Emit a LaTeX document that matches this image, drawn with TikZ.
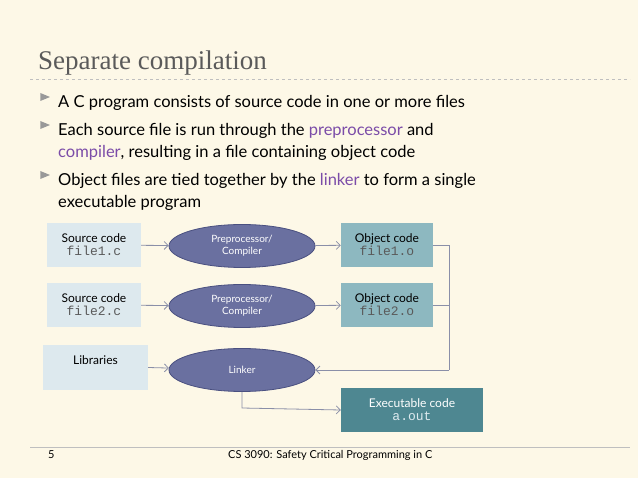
\documentclass[tikz,border=0pt]{standalone}
\usepackage{fontspec}
\setmainfont{Lato}
\newfontfamily\titlefont{Liberation Serif}
\setmonofont{Liberation Mono}
\usetikzlibrary{shapes.geometric,arrows.meta}
\definecolor{bg}{HTML}{FDF8E7}
\definecolor{lightbox}{HTML}{DDE9EE}
\definecolor{ell}{HTML}{6A70A0}
\definecolor{ellb}{HTML}{4A5080}
\definecolor{objc}{HTML}{8DB8C0}
\definecolor{exec}{HTML}{4E8791}
\definecolor{purp}{HTML}{7B4CA8}
\definecolor{conn}{HTML}{8A8FA8}
\definecolor{ttl}{HTML}{5A5A5A}
\tikzset{
 lbox/.style={fill=lightbox,minimum width=94pt,minimum height=44pt,align=center,inner sep=0pt},
 obox/.style={fill=objc,minimum width=92pt,minimum height=44pt,align=center,inner sep=0pt},
 ebox/.style={fill=exec,text=white,minimum width=142pt,minimum height=44pt,align=center,inner sep=0pt},
 proc/.style={ellipse,fill=ell,draw=ellb,line width=0.8pt,text=white,minimum width=146pt,minimum height=43pt,align=center,inner sep=0pt,font=\fontsize{10}{12}\selectfont},
 conn/.style={draw=conn,line width=0.8pt,-{Straight Barb[length=4pt,width=8pt]}},
 btext/.style={anchor=base west,font=\fontsize{16.5}{22}\selectfont,text=black,inner sep=0pt},
 bul/.style={isosceles triangle,fill=gray!80,minimum width=8pt,minimum height=7pt,inner sep=0pt},
}
\begin{document}
\begin{tikzpicture}[x=1pt,y=-1pt]
\fill[bg] (0,0) rectangle (638,478);
\useasboundingbox (0,0) rectangle (638,478);
\node[anchor=base west,text=ttl,font=\titlefont\fontsize{27}{30}\selectfont,inner sep=0pt] (title) at (38,70) {Separate compilation};
\draw[gray!50,dashed,line width=0.5pt] (30,79) -- (630,79);
\node[bul] (b1) at (43,97) {};
\node[bul] (b2) at (43,125) {};
\node[bul] (b3) at (43,175) {};
\node[btext] (t1) at (58,108) {A C program consists of source code in one or more files};
\node[btext] (t2) at (58,136) {Each source file is run through the \textcolor{purp}{preprocessor} and};
\node[btext] (t2b) at (58,158) {\textcolor{purp}{compiler}, resulting in a file containing object code};
\node[btext] (t3) at (58,186) {Object files are tied together by the \textcolor{purp}{linker} to form a single};
\node[btext] (t3b) at (58,208) {executable program};
\node[lbox] (s1) at (94,245) {\fontsize{12}{14}\selectfont Source code\\[1pt]\fontsize{13}{14}\selectfont\ttfamily\color{ttl}file1.c};
\node[lbox] (s2) at (94,305) {\fontsize{12}{14}\selectfont Source code\\[1pt]\fontsize{13}{14}\selectfont\ttfamily\color{ttl}file2.c};
\node[lbox,minimum width=105pt,minimum height=45pt] (lib) at (95.5,367.5) {};
\node[font=\fontsize{12}{14}\selectfont] (libt) at (95.5,360) {Libraries};
\node[proc] (p1) at (242,246) {Preprocessor/\\Compiler};
\node[proc] (p2) at (242,306) {Preprocessor/\\Compiler};
\node[proc] (lk) at (242,370) {Linker};
\node[obox] (o1) at (387,245) {\fontsize{12}{14}\selectfont Object code\\[1pt]\fontsize{13}{14}\selectfont\ttfamily\color{ttl}file1.o};
\node[obox] (o2) at (387,305) {\fontsize{12}{14}\selectfont Object code\\[1pt]\fontsize{13}{14}\selectfont\ttfamily\color{ttl}file2.o};
\node[ebox] (ex) at (412,410) {\fontsize{12}{14}\selectfont Executable code\\[1pt]\fontsize{13}{14}\selectfont\ttfamily\color{lightbox}a.out};
\draw[conn] (s1) -- (p1);
\draw[conn] (s2) -- (p2);
\draw[conn] (lib.east) -- (lk);
\draw[conn] (p1) -- (o1);
\draw[conn] (p2) -- (o2);
\coordinate (rc) at (449,370);
\draw[draw=conn,line width=0.8pt] (o1.east) -- (449,245) -- (rc);
\draw[draw=conn,line width=0.8pt] (o2.east) -- (449,305);
\draw[conn] (rc) -- (lk.east);
\draw[conn] (lk.south) -- (242,408) -- (ex.west);
\draw[gray!50,line width=0.5pt] (30,447) -- (630,447);
\node[anchor=base west,font=\fontsize{11}{13}\selectfont,inner sep=0pt] (pg) at (48,459) {5};
\node[anchor=base west,font=\fontsize{11}{13}\selectfont,inner sep=0pt] (ft) at (228,459) {CS 3090: Safety Critical Programming in C};
\end{tikzpicture}
\end{document}
